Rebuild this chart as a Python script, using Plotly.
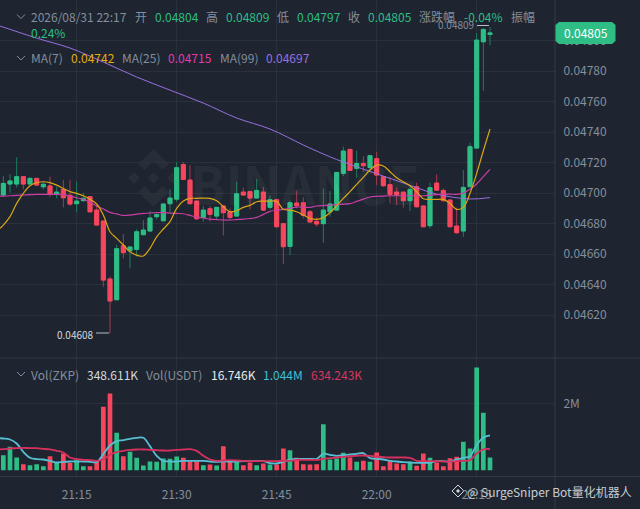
import pandas as pd
import plotly.graph_objects as go

W, H = 640, 509
BG = "#1e2530"
GRID = "#2a313b"
SEP = "#333a44"
TEXT = "#848e9c"
UP = "#2ebd85"
DOWN = "#f6465d"
UP_WICK = "#1f7d5f"
DOWN_WICK = "#a63a50"

times = pd.date_range("2026-08-31 21:04", periods=74, freq="min")
line_times = pd.date_range("2026-08-31 21:03", periods=75, freq="min")

opens = [
    0.046987, 0.047059, 0.047059, 0.047107, 0.047059, 0.047096, 0.047041, 0.047046, 0.046993, 0.047024,
    0.046985, 0.046930, 0.046950, 0.046976, 0.046888, 0.046816, 0.046436, 0.046300, 0.046654, 0.046622,
    0.046630, 0.046727, 0.046751, 0.046845, 0.046818, 0.046930, 0.046960, 0.047186, 0.047085, 0.046947,
    0.046840, 0.046897, 0.046849, 0.046915, 0.046877, 0.046849, 0.047006, 0.047009, 0.046967, 0.047006,
    0.046906, 0.046956, 0.046799, 0.046650, 0.046934, 0.046936, 0.046877, 0.046814, 0.046799, 0.046877,
    0.046888, 0.047129, 0.047286, 0.047162, 0.047194, 0.047168, 0.047225, 0.047107, 0.047055, 0.047006,
    0.047006, 0.046950, 0.047041, 0.046915, 0.046786, 0.047065, 0.047017, 0.046954, 0.046783, 0.046751,
    0.047041, 0.047295, 0.047992, 0.048040,
]
highs = [
    0.047111, 0.047124, 0.047234, 0.047107, 0.047103, 0.047096, 0.047074, 0.047107, 0.047041, 0.047085,
    0.047085, 0.047074, 0.047002, 0.046976, 0.046921, 0.046816, 0.046451, 0.046661, 0.046731, 0.046646,
    0.046762, 0.046823, 0.046884, 0.046866, 0.046928, 0.047024, 0.047203, 0.047203, 0.047183, 0.046947,
    0.046915, 0.046915, 0.046906, 0.046921, 0.046899, 0.047074, 0.047035, 0.047009, 0.047092, 0.047041,
    0.046985, 0.046960, 0.046799, 0.046952, 0.047015, 0.046971, 0.046888, 0.046840, 0.047030, 0.047013,
    0.047135, 0.047304, 0.047286, 0.047277, 0.047242, 0.047245, 0.047271, 0.047107, 0.047107, 0.047037,
    0.047006, 0.047041, 0.047068, 0.046915, 0.047068, 0.047122, 0.047030, 0.046954, 0.046904, 0.047151,
    0.047330, 0.048050, 0.048080, 0.048090,
]
lows = [
    0.046976, 0.047002, 0.047037, 0.047024, 0.047059, 0.047046, 0.047024, 0.046976, 0.046965, 0.046906,
    0.046915, 0.046873, 0.046943, 0.046871, 0.046790, 0.046386, 0.046080, 0.046300, 0.046571, 0.046506,
    0.046582, 0.046722, 0.046751, 0.046827, 0.046812, 0.046871, 0.046943, 0.047085, 0.046930, 0.046827,
    0.046812, 0.046812, 0.046827, 0.046722, 0.046823, 0.046849, 0.046987, 0.046893, 0.046967, 0.046884,
    0.046893, 0.046779, 0.046534, 0.046593, 0.046899, 0.046834, 0.046810, 0.046779, 0.046674, 0.046845,
    0.046882, 0.047111, 0.047148, 0.047100, 0.047140, 0.047140, 0.047052, 0.047041, 0.046932, 0.046921,
    0.046904, 0.046882, 0.046906, 0.046775, 0.046768, 0.047019, 0.046943, 0.046779, 0.046731, 0.046713,
    0.047041, 0.047295, 0.047670, 0.047970,
]
closes = [
    0.047063, 0.047079, 0.047107, 0.047059, 0.047096, 0.047052, 0.047057, 0.046993, 0.047006, 0.046969,
    0.046928, 0.046947, 0.046965, 0.046877, 0.046790, 0.046429, 0.046292, 0.046635, 0.046609, 0.046646,
    0.046746, 0.046757, 0.046836, 0.046858, 0.046928, 0.046967, 0.047166, 0.047089, 0.046930, 0.046831,
    0.046888, 0.046860, 0.046906, 0.046871, 0.046840, 0.046995, 0.046987, 0.046967, 0.047017, 0.046888,
    0.046956, 0.046779, 0.046648, 0.046936, 0.046917, 0.046853, 0.046810, 0.046797, 0.046888, 0.046928,
    0.047135, 0.047275, 0.047148, 0.047194, 0.047179, 0.047245, 0.047118, 0.047048, 0.046991, 0.046989,
    0.046950, 0.047024, 0.046910, 0.046779, 0.047035, 0.047019, 0.046950, 0.046779, 0.046740, 0.047037,
    0.047304, 0.048003, 0.048073, 0.048050,
]

# MA lines start one minute before the first candle, they run off the left edge
ma7 = [
    0.046750, 0.046790, 0.046845, 0.046932, 0.046998, 0.047048, 0.047068, 0.047074, 0.047068, 0.047052,
    0.047030, 0.047009, 0.046998, 0.046982, 0.046960, 0.046928, 0.046856, 0.046746, 0.046703, 0.046659,
    0.046615, 0.046593, 0.046587, 0.046637, 0.046713, 0.046764, 0.046812, 0.046899, 0.046947, 0.046965,
    0.046965, 0.046967, 0.046965, 0.046950, 0.046910, 0.046877, 0.046884, 0.046906, 0.046919, 0.046943,
    0.046947, 0.046947, 0.046945, 0.046893, 0.046888, 0.046877, 0.046856, 0.046834, 0.046827, 0.046840,
    0.046871, 0.046917, 0.046965, 0.047009, 0.047057, 0.047103, 0.047151, 0.047183, 0.047177, 0.047140,
    0.047100, 0.047074, 0.047048, 0.047009, 0.046963, 0.046958, 0.046958, 0.046958, 0.046932, 0.046893,
    0.046906, 0.046998, 0.047129, 0.047277, 0.047420,
]
ma25 = [
    0.046980, 0.046980, 0.046982, 0.046985, 0.046987, 0.046989, 0.046991, 0.046991, 0.046991, 0.046991,
    0.046991, 0.046980, 0.046969, 0.046958, 0.046940, 0.046915, 0.046895, 0.046873, 0.046863, 0.046853,
    0.046855, 0.046862, 0.046866, 0.046869, 0.046871, 0.046871, 0.046868, 0.046866, 0.046864, 0.046853,
    0.046842, 0.046836, 0.046829, 0.046826, 0.046823, 0.046823, 0.046826, 0.046829, 0.046833, 0.046840,
    0.046860, 0.046880, 0.046887, 0.046893, 0.046900, 0.046908, 0.046907, 0.046906, 0.046915, 0.046918,
    0.046921, 0.046924, 0.046927, 0.046930, 0.046945, 0.046960, 0.046974, 0.046978, 0.046980, 0.046982,
    0.046982, 0.046982, 0.046982, 0.046982, 0.046982, 0.046985, 0.046989, 0.046993, 0.046993, 0.046991,
    0.047000, 0.047024, 0.047059, 0.047107, 0.047155,
]
ma99_idx = [-1, 0, 5, 10, 15, 20, 25, 30, 35, 40, 45, 48, 50, 55, 60, 65, 70, 73]
ma99 = [
    0.048102, 0.048088, 0.048016, 0.047951, 0.047859, 0.047761, 0.047675, 0.047590, 0.047492, 0.047420,
    0.047315, 0.047256, 0.047220, 0.047141, 0.047066, 0.046993, 0.046961, 0.046970,
]

vol_up = [
    1, 1, 1, 0, 1, 1, 1, 0, 1, 0, 0, 1, 1, 0, 0, 0, 0, 1, 0, 1,
    1, 1, 1, 1, 1, 1, 1, 0, 0, 0, 1, 0, 1, 0, 0, 1, 0, 0, 1, 0,
    1, 0, 0, 1, 0, 0, 0, 0, 1, 1, 1, 1, 0, 1, 0, 1, 0, 0, 0, 0,
    0, 1, 0, 0, 1, 0, 0, 0, 0, 1, 1, 1, 1, 1,
]
volume = [
    0.45, 0.70, 0.38, 0.18, 0.15, 0.18, 0.12, 0.42, 0.22, 0.50, 0.22, 0.30, 0.12, 0.12, 0.27, 1.90, 2.30, 1.12, 0.42, 0.55,
    0.37, 0.14, 0.26, 0.25, 0.35, 0.34, 0.41, 0.37, 0.27, 0.27, 0.15, 0.17, 0.14, 0.72, 0.25, 0.25, 0.15, 0.23, 0.15, 0.20,
    0.17, 0.17, 0.65, 0.60, 0.37, 0.18, 0.17, 0.18, 1.38, 0.32, 0.35, 0.52, 0.38, 0.25, 0.28, 0.25, 0.53, 0.12, 0.27, 0.20,
    0.18, 0.25, 0.13, 0.50, 0.37, 0.23, 0.12, 0.36, 0.40, 0.85, 0.65, 3.08, 1.72, 0.38,
]
vol_ma_a = [
    0.96, 0.95, 0.92, 0.80, 0.55, 0.37, 0.33, 0.32, 0.28, 0.23, 0.25, 0.26, 0.26, 0.26, 0.25, 0.24, 0.48, 0.74, 0.87, 0.90,
    0.94, 0.97, 0.97, 0.72, 0.43, 0.28, 0.26, 0.26, 0.28, 0.28, 0.28, 0.28, 0.26, 0.25, 0.26, 0.26, 0.26, 0.27, 0.27, 0.27,
    0.27, 0.21, 0.20, 0.25, 0.32, 0.34, 0.34, 0.34, 0.34, 0.49, 0.46, 0.43, 0.45, 0.47, 0.49, 0.51, 0.36, 0.34, 0.32, 0.28,
    0.26, 0.24, 0.23, 0.22, 0.22, 0.22, 0.27, 0.27, 0.26, 0.32, 0.37, 0.42, 0.75, 0.98, 1.044,
]
vol_ma_b = [
    0.62, 0.63, 0.65, 0.66, 0.67, 0.66, 0.66, 0.64, 0.62, 0.58, 0.53, 0.38, 0.33, 0.31, 0.30, 0.28, 0.32, 0.46, 0.54, 0.58,
    0.61, 0.62, 0.62, 0.61, 0.60, 0.59, 0.59, 0.61, 0.62, 0.63, 0.58, 0.43, 0.32, 0.28, 0.29, 0.30, 0.29, 0.28, 0.27, 0.27,
    0.27, 0.27, 0.27, 0.28, 0.28, 0.31, 0.31, 0.31, 0.31, 0.34, 0.36, 0.38, 0.40, 0.42, 0.43, 0.44, 0.43, 0.41, 0.39, 0.38,
    0.38, 0.38, 0.37, 0.28, 0.27, 0.27, 0.27, 0.26, 0.26, 0.27, 0.28, 0.30, 0.50, 0.62, 0.634,
]

price_ticks = [0.0462, 0.0464, 0.0466, 0.0468, 0.0470, 0.0472, 0.0474, 0.0476, 0.0478, 0.0480]
time_ticks = ["2026-08-31 21:15", "2026-08-31 21:30", "2026-08-31 21:45", "2026-08-31 22:00", "2026-08-31 22:15"]

# header rows: (left px, centre px, text, colour)
header = [
    (29, 16.5, "2026/08/31 22:17", TEXT), (133, 16.5, "开", TEXT), (153, 16.5, "0.04804", UP),
    (204, 16.5, "高", TEXT), (224, 16.5, "0.04809", UP), (275, 16.5, "低", TEXT), (295, 16.5, "0.04797", UP),
    (346, 16.5, "收", TEXT), (366, 16.5, "0.04805", UP), (417, 16.5, "涨跌幅", TEXT), (462, 16.5, "-0.04%", UP),
    (509, 16.5, "振幅", TEXT), (29, 32.5, "0.24%", UP),
    (29, 58, "MA(7)", TEXT), (69, 58, "0.04742", "#e6ac0c"), (120, 58, "MA(25)", TEXT),
    (166, 58, "0.04715", "#e23aa8"), (218, 58, "MA(99)", TEXT), (264, 58, "0.04697", "#9a6fe0"),
    (29, 374, "Vol(ZKP)", TEXT), (85, 374, "348.611K", "#d5d9de"), (144, 374, "Vol(USDT)", TEXT),
    (209, 374, "16.746K", "#eaecef"), (261, 374, "1.044M", "#3fbfd4"), (309, 374, "634.243K", "#d8365f"),
]


def px_x(x):
    return x / W


def px_y(y):
    return 1 - y / H


def paper_path(points, close=False):
    cmds = [f"{'M' if i == 0 else 'L'}{px_x(x):.5f},{px_y(y):.5f}" for i, (x, y) in enumerate(points)]
    return " ".join(cmds) + (" Z" if close else "")


def chevron(cy):
    return dict(type="path", xref="paper", yref="paper", layer="above",
                path=paper_path([(17, cy - 2), (21, cy + 2), (25, cy - 2)]),
                line=dict(color=TEXT, width=1))


def diamond(cx, cy, r, fill="rgba(255,255,255,0.045)", line_color="rgba(0,0,0,0)"):
    return dict(type="path", xref="paper", yref="paper", layer="below",
                path=paper_path([(cx, cy - r), (cx + r, cy), (cx, cy + r), (cx - r, cy)], close=True),
                fillcolor=fill, line=dict(color=line_color, width=1))


def label(x, y, text, color, size=12, xanchor="left"):
    return dict(xref="paper", yref="paper", x=px_x(x), y=px_y(y), text=text, showarrow=False,
                xanchor=xanchor, yanchor="middle", font=dict(color=color, size=size))


body_high = [max(o, c) for o, c in zip(opens, closes)]
body_low = [min(o, c) for o, c in zip(opens, closes)]
bar_colors = [UP if up else DOWN for up in vol_up]
ma99_times = [line_times[i + 1] for i in ma99_idx]

fig = go.Figure()
fig.add_trace(go.Candlestick(
    x=times, open=opens, high=highs, low=lows, close=closes,
    increasing=dict(line=dict(color=UP_WICK, width=1), fillcolor=UP_WICK),
    decreasing=dict(line=dict(color=DOWN_WICK, width=1), fillcolor=DOWN_WICK),
))
fig.add_trace(go.Candlestick(
    x=times, open=opens, high=body_high, low=body_low, close=closes,
    increasing=dict(line=dict(color=UP, width=1), fillcolor=UP),
    decreasing=dict(line=dict(color=DOWN, width=1), fillcolor=DOWN),
))
fig.add_trace(go.Scatter(x=ma99_times, y=ma99, mode="lines", line=dict(color="#9a6fe0", width=1, shape="spline")))
fig.add_trace(go.Scatter(x=line_times, y=ma25, mode="lines", line=dict(color="#c93ea5", width=1.2, shape="spline")))
fig.add_trace(go.Scatter(x=line_times, y=ma7, mode="lines", line=dict(color="#d9a514", width=1.2, shape="spline")))

fig.add_trace(go.Bar(x=times, y=volume, width=42000, marker=dict(color=bar_colors, line_width=0), xaxis="x2", yaxis="y2"))
fig.add_trace(go.Scatter(x=line_times, y=vol_ma_a, mode="lines", xaxis="x2", yaxis="y2",
                         line=dict(color="#58bfd2", width=1.8, shape="spline")))
fig.add_trace(go.Scatter(x=line_times, y=vol_ma_b, mode="lines", xaxis="x2", yaxis="y2",
                         line=dict(color="#d6305f", width=1.8, shape="spline")))

x_range = ["2026-08-31 21:03:30", "2026-08-31 22:26:45"]
shapes = [
    chevron(16.5), chevron(58), chevron(374),
    # panel separators
    dict(type="line", xref="paper", yref="paper", x0=0, x1=1, y0=px_y(358), y1=px_y(358), layer="above", line=dict(color=SEP, width=1)),
    dict(type="line", xref="paper", yref="paper", x0=0, x1=1, y0=px_y(476.5), y1=px_y(476.5), layer="above", line=dict(color=SEP, width=1)),
    dict(type="line", xref="paper", yref="paper", x0=px_x(555), x1=px_x(555), y0=0, y1=1, layer="above", line=dict(color=SEP, width=1)),
    # low and high markers
    dict(type="line", xref="paper", yref="paper", x0=px_x(96), x1=px_x(109), y0=px_y(333), y1=px_y(333), layer="above", line=dict(color="#b7bdc6", width=1)),
    dict(type="line", xref="paper", yref="paper", x0=px_x(477), x1=px_x(489), y0=px_y(25.5), y1=px_y(25.5), layer="above", line=dict(color="#b7bdc6", width=1)),
    # last price tag
    dict(type="path", xref="paper", yref="paper", layer="above", fillcolor=UP, line=dict(color=UP, width=0),
         path=paper_path([(559, 22), (612, 22), (615.5, 25), (615.5, 41), (612, 44), (559, 44), (555.5, 41), (555.5, 25)], close=True)),
    # faint logo behind the candles
    diamond(134, 178, 6), diamond(153.5, 178, 6), diamond(173, 178, 6),
    dict(type="path", xref="paper", yref="paper", layer="below", fillcolor="rgba(255,255,255,0.045)", line=dict(width=0),
         path=paper_path([(153.5, 149), (169, 164), (162.5, 170), (153.5, 161), (144.5, 170), (138, 164)], close=True)),
    dict(type="path", xref="paper", yref="paper", layer="below", fillcolor="rgba(255,255,255,0.045)", line=dict(width=0),
         path=paper_path([(153.5, 207), (169, 192), (162.5, 186), (153.5, 195), (144.5, 186), (138, 192)], close=True)),
    # source badge
    diamond(458, 491, 6, fill="rgba(0,0,0,0)", line_color="#d5d9de"),
    diamond(458, 491, 2, fill="#d5d9de"),
]

annotations = [label(x, y, t, c) for x, y, t, c in header]
annotations += [
    label(585.5, 33, "0.04805", "#ffffff", xanchor="center"),
    label(96, 334, "0.04608", "#d5d9de", size=10, xanchor="right"),
    label(476, 25, "0.04809", TEXT, size=10, xanchor="right"),
    label(188, 182, "<b>BINANCE</b>", "rgba(255,255,255,0.045)", size=52),
    label(634, 491.5, "@ SurgeSniper Bot量化机器人", "#c9cdd2", xanchor="right"),
]

fig.update_layout(
    width=W, height=H, margin=dict(l=0, r=0, t=0, b=0),
    paper_bgcolor=BG, plot_bgcolor=BG, showlegend=False, boxmode="overlay", boxgap=0.4, boxgroupgap=0,
    font=dict(family="Noto Sans CJK SC, Noto Sans, sans-serif", size=12, color=TEXT),
    shapes=shapes, annotations=annotations, hovermode=False,
    xaxis=dict(domain=[0, px_x(555)], range=x_range, type="date", rangeslider_visible=False, anchor="y",
               tickvals=time_ticks, showticklabels=False, showgrid=True, gridcolor=GRID, gridwidth=1, zeroline=False, ticks=""),
    yaxis=dict(domain=[px_y(358), 1], range=[0.045918, 0.048266], side="right", anchor="x",
               tickvals=price_ticks, tickformat=".5f", showgrid=True, gridcolor=GRID, gridwidth=1,
               zeroline=False, ticks="outside", ticklen=5, tickcolor="rgba(0,0,0,0)"),
    xaxis2=dict(domain=[0, px_x(555)], range=x_range, type="date", anchor="y2", matches="x",
                tickvals=time_ticks, tickformat="%H:%M", showgrid=True, gridcolor=GRID, gridwidth=1,
                zeroline=False, ticks="outside", ticklen=7, tickcolor="rgba(0,0,0,0)"),
    yaxis2=dict(domain=[px_y(476.5), px_y(358)], range=[-0.19, 3.363], side="right", anchor="x2",
                tickvals=[2], ticktext=["2M"], showgrid=True, gridcolor=GRID, gridwidth=1,
                zeroline=False, ticks="outside", ticklen=5, tickcolor="rgba(0,0,0,0)"),
)

# the page's default body margin would push the figure 8px in and clip it
fig.write_html("out.html", config=dict(displayModeBar=False), post_script="document.body.style.margin = '0';")
